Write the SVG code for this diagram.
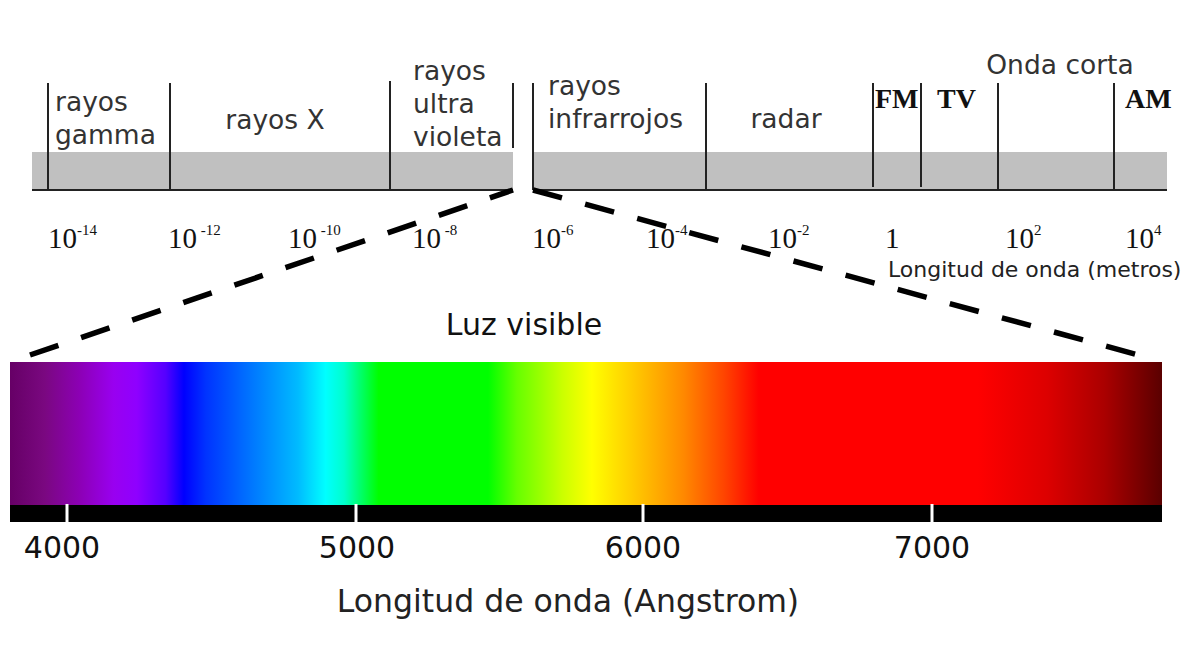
<svg xmlns="http://www.w3.org/2000/svg" width="1200" height="665" viewBox="0 0 1200 665">
<defs>
<linearGradient id="spec" x1="10" y1="0" x2="1162" y2="0" gradientUnits="userSpaceOnUse">
<stop offset="0" stop-color="#660066"/>
<stop offset="0.03" stop-color="#7a0880"/>
<stop offset="0.06" stop-color="#8c00b4"/>
<stop offset="0.09" stop-color="#9900f0"/>
<stop offset="0.11" stop-color="#8f00ff"/>
<stop offset="0.135" stop-color="#5500ff"/>
<stop offset="0.151" stop-color="#0000ff"/>
<stop offset="0.17" stop-color="#0033ff"/>
<stop offset="0.21" stop-color="#0077ff"/>
<stop offset="0.25" stop-color="#00bbff"/>
<stop offset="0.274" stop-color="#00ffff"/>
<stop offset="0.29" stop-color="#00ffcc"/>
<stop offset="0.31" stop-color="#00ff44"/>
<stop offset="0.32" stop-color="#00ff00"/>
<stop offset="0.415" stop-color="#00ff00"/>
<stop offset="0.44" stop-color="#66ff00"/>
<stop offset="0.48" stop-color="#ccff00"/>
<stop offset="0.505" stop-color="#ffff00"/>
<stop offset="0.54" stop-color="#ffcc00"/>
<stop offset="0.585" stop-color="#ff8800"/>
<stop offset="0.62" stop-color="#ff4400"/>
<stop offset="0.65" stop-color="#ff0000"/>
<stop offset="0.84" stop-color="#ff0000"/>
<stop offset="0.9" stop-color="#dd0000"/>
<stop offset="0.95" stop-color="#aa0000"/>
<stop offset="1" stop-color="#5a0000"/>
</linearGradient>
</defs>
<style>
.sans{font-family:"DejaVu Sans","Liberation Sans",sans-serif;fill:#222}
.lab{font-size:26.5px;fill:#333}
.serif{font-family:"Liberation Serif","Times New Roman",serif;fill:#111}
.exp{font-size:29px}
.sup{font-size:15px}
.rad{font-size:28px;font-weight:bold}
.band{fill:#c0c0c0}
.div{stroke:#222;stroke-width:2;fill:none}
.dash{stroke:#000;stroke-width:5.5;stroke-dasharray:30 24;fill:none}
.tick{stroke:#fff;stroke-width:3}
.big{font-size:30px;fill:#111}
</style>
<rect width="1200" height="665" fill="#fff"/>

<g id="band-left">
<rect class="band" x="32" y="152" width="481" height="38"/>
<line class="div" x1="32" y1="190" x2="513" y2="190"/>
</g>
<g id="band-right">
<rect class="band" x="533" y="152" width="634" height="38"/>
<line class="div" x1="533" y1="190" x2="1167" y2="190"/>
</g>

<g id="dividers">
<line class="div" x1="48" y1="83" x2="48" y2="189"/>
<line class="div" x1="170" y1="83" x2="170" y2="189"/>
<line class="div" x1="390" y1="81" x2="390" y2="189"/>
<line class="div" x1="513" y1="83" x2="513" y2="148"/>
<line class="div" x1="533" y1="83" x2="533" y2="190"/>
<line class="div" x1="706" y1="83" x2="706" y2="189"/>
<line class="div" x1="873" y1="83" x2="873" y2="187"/>
<line class="div" x1="921" y1="83" x2="921" y2="187"/>
<line class="div" x1="998" y1="83" x2="998" y2="189"/>
<line class="div" x1="1114" y1="83" x2="1114" y2="189"/>
</g>

<g id="gamma"><text class="sans lab" x="55" y="111">rayos</text><text class="sans lab" x="55" y="144">gamma</text></g>
<g id="xray"><text class="sans lab" x="275" y="129" text-anchor="middle">rayos X</text></g>
<g id="uv"><text class="sans lab" x="413" y="80">rayos</text><text class="sans lab" x="413" y="113">ultra</text><text class="sans lab" x="413" y="146">violeta</text></g>
<g id="ir"><text class="sans lab" x="548" y="95">rayos</text><text class="sans lab" x="548" y="128">infrarrojos</text></g>
<g id="radar"><text class="sans lab" x="786" y="128" text-anchor="middle">radar</text></g>
<g id="fm"><text class="serif rad" x="875" y="108">FM</text></g>
<g id="tv"><text class="serif rad" x="937" y="108">TV</text></g>
<g id="onda"><text class="sans lab" x="1060" y="74" text-anchor="middle">Onda corta</text></g>
<g id="am"><text class="serif rad" x="1125" y="108">AM</text></g>

<g id="exponents" class="serif exp">
<text x="48" y="248">10<tspan class="sup" dy="-13">-14</tspan></text>
<text x="168" y="248">10<tspan class="sup" dy="-13"> -12</tspan></text>
<text x="288" y="248">10<tspan class="sup" dy="-13"> -10</tspan></text>
<text x="412" y="248">10<tspan class="sup" dy="-13"> -8</tspan></text>
<text x="532" y="248">10<tspan class="sup" dy="-13">-6</tspan></text>
<text x="646" y="248">10<tspan class="sup" dy="-13">-4</tspan></text>
<text x="768" y="248">10<tspan class="sup" dy="-13">-2</tspan></text>
<text x="885" y="248">1</text>
<text x="1005" y="248">10<tspan class="sup" dy="-13">2</tspan></text>
<text x="1125" y="248">10<tspan class="sup" dy="-13">4</tspan></text>
</g>
<g id="metros"><text class="sans" x="888" y="277" font-size="22" fill="#333">Longitud de onda (metros)</text></g>

<g id="connectors">
<line class="dash" x1="30" y1="355" x2="513" y2="190"/>
<line class="dash" x1="533" y1="190" x2="1142" y2="356"/>
</g>

<g id="luz"><text class="sans big" x="524" y="335" text-anchor="middle">Luz visible</text></g>

<g id="spectrum">
<rect x="10" y="362" width="1152" height="143" fill="url(#spec)"/>
<rect x="10" y="505" width="1152" height="17" fill="#000"/>
<line class="tick" x1="67" y1="504" x2="67" y2="522"/>
<line class="tick" x1="356" y1="504" x2="356" y2="522"/>
<line class="tick" x1="643" y1="504" x2="643" y2="522"/>
<line class="tick" x1="932" y1="504" x2="932" y2="522"/>
</g>

<g id="angstrom-labels" class="sans big">
<text x="62" y="558" text-anchor="middle">4000</text>
<text x="357" y="558" text-anchor="middle">5000</text>
<text x="643" y="558" text-anchor="middle">6000</text>
<text x="932" y="558" text-anchor="middle">7000</text>
</g>
<g id="angstrom"><text class="sans" x="568" y="612" text-anchor="middle" font-size="31.5" fill="#111">Longitud de onda (Angstrom)</text></g>
</svg>
